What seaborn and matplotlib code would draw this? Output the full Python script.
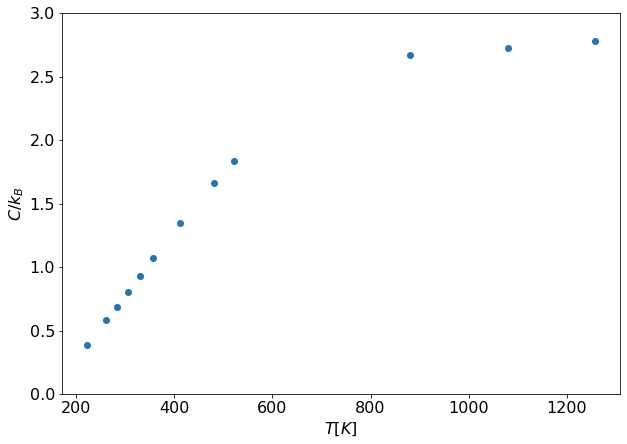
import numpy as np
import pandas as pd
import matplotlib
matplotlib.use("Agg")
import matplotlib.pyplot as plt
import seaborn as sns

# temperature [K] and heat capacity C/k_B
temperature = [222.7, 261.4, 283.9, 306.3, 330.8, 357.3, 412.4, 479.8, 520.6, 879.8, 1079.8, 1257.3]
heat_capacity = [0.386, 0.583, 0.685, 0.803, 0.929, 1.071, 1.346, 1.661, 1.835, 2.669, 2.724, 2.780]

if __name__ == "__main__":
    df = pd.DataFrame({"T": temperature, "C": heat_capacity})
    plt.rcParams["font.size"] = 16
    fig = plt.figure(figsize=(627 / 72, 444 / 72), dpi=72)
    ax = fig.add_axes([0.0989, 0.1119, 0.8904, 0.8581])
    sns.scatterplot(data=df, x="T", y="C", ax=ax, s=50, color="#1f77b4", linewidth=0)
    ax.set_ylim(0, 3.0)
    ax.set_yticks(np.arange(0, 3.01, 0.5))
    ax.set_xlabel(r"$T[K]$")
    ax.set_ylabel(r"$C/k_B$")
    fig.savefig("out.png", dpi=72)
